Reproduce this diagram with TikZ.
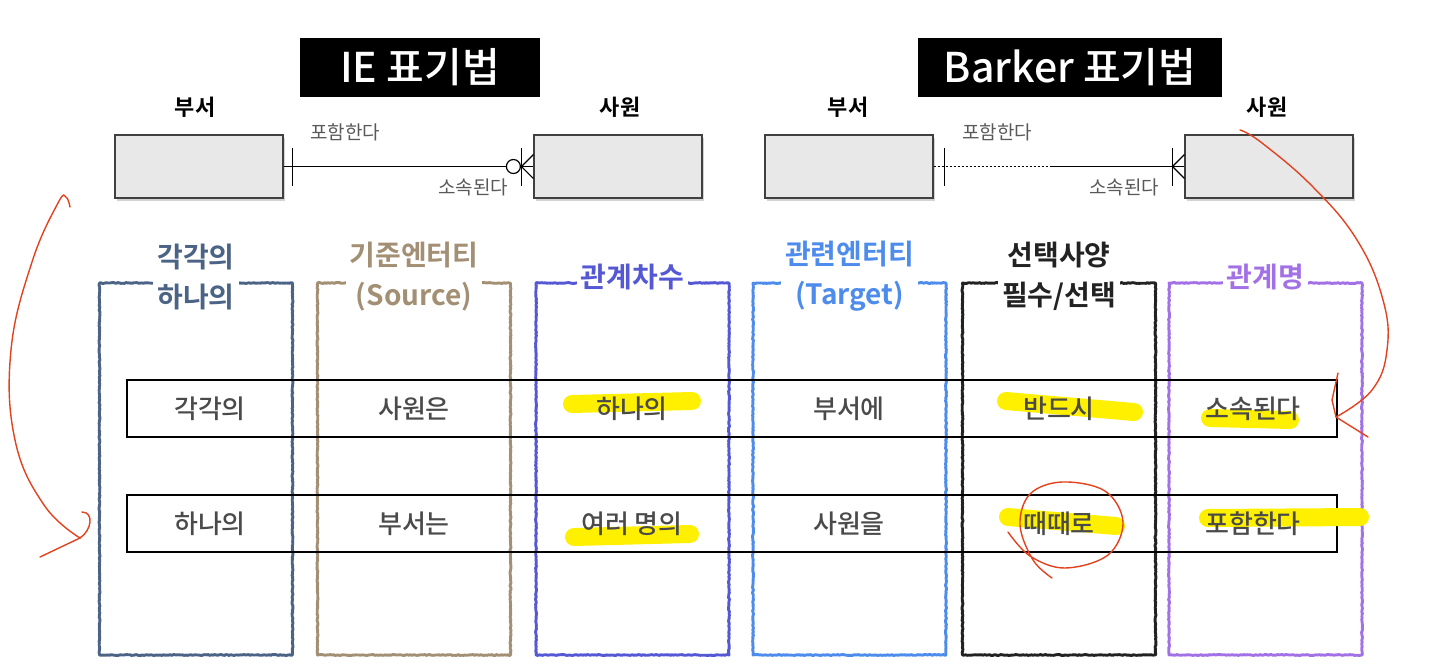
\documentclass[tikz,border=0pt]{standalone}
\usepackage{fontspec}
\setmainfont{Noto Sans CJK KR}[BoldFont={Noto Sans CJK KR Bold}]
\IfFontExistsTF{Noto Sans CJK KR Medium}
  {\newfontfamily\medfont{Noto Sans CJK KR Medium}}
  {\newfontfamily\medfont{Noto Sans CJK KR}}
\usepackage{tikz}
\usetikzlibrary{positioning, calc, shadows, decorations.pathmorphing}
\definecolor{colA}{HTML}{4B6385}
\definecolor{colB}{HTML}{A38F73}
\definecolor{colC}{HTML}{5558D4}
\definecolor{colD}{HTML}{4D8CEC}
\definecolor{colE}{HTML}{222222}
\definecolor{colF}{HTML}{A371E6}
\definecolor{penred}{HTML}{E2421E}
\definecolor{marker}{HTML}{FFF000}
\definecolor{txtgray}{HTML}{4A4A4A}

\begin{document}
\begin{tikzpicture}
[x=1pt, y=-1pt,
 ent/.style={rectangle, draw=black!75, line width=1.2pt, fill=black!9, minimum width=168pt, minimum height=63pt,
   drop shadow={shadow xshift=2pt, shadow yshift=-3pt, opacity=0.35}},
 ttl/.style={rectangle, fill=black, text=white, font=\medfont\fontsize{41}{44}\selectfont, minimum height=59pt, inner sep=0pt},
 lbl/.style={font=\bfseries\fontsize{22}{24}\selectfont},
 rel/.style={text=black!65, font=\fontsize{19}{21}\selectfont, inner sep=0pt},
 frm/.style={rectangle, line width=2.9pt, line join=round, minimum width=193pt, minimum height=372pt,
   decorate, decoration={random steps, segment length=1.6pt, amplitude=0.45pt}},
 hdr/.style={fill=white, align=center, inner sep=4pt, yshift=5pt, font=\bfseries\fontsize{28}{40}\selectfont},
 rowbox/.style={rectangle, draw=black, line width=1.5pt, minimum width=1210pt, minimum height=57pt},
 cell/.style={text=txtgray, font=\medfont\fontsize{26}{30}\selectfont},
 hl/.style={marker, line width=18pt, line cap=round},
 pen/.style={penred, line width=1.4pt, line cap=round, line join=round}]

\useasboundingbox (0,0) rectangle (1440,665);

% columns and their headers
\node[frm, draw=colA] (col1) at (196,469) {};
\node[frm, draw=colB] (col2) at (414,469) {};
\node[frm, draw=colC] (col3) at (632.5,469) {};
\node[frm, draw=colD] (col4) at (849.5,469) {};
\node[frm, draw=colE] (col5) at (1059,469) {};
\node[frm, draw=colF] (col6) at (1265.5,469) {};
\node[hdr, text=colA] (h1) at (col1.north) {각각의\\하나의};
\node[hdr, text=colB] (h2) at (col2.north) {기준엔터티\\(Source)};
\node[hdr, text=colC] (h3) at (col3.north) {관계차수};
\node[hdr, text=colD] (h4) at (col4.north) {관련엔터티\\(Target)};
\node[hdr, text=colE] (h5) at (col5.north) {선택사양\\필수/선택};
\node[hdr, text=colF] (h6) at (col6.north) {관계명};

% the two sentences
\node[rowbox] (row1) at (732,408.5) {};
\node[rowbox] (row2) at (732,523.5) {};

\draw[hl] (572,404) -- (692,401);
\draw[hl] (574,537) -- (690,534);
\draw[hl] (1006,401) -- (1134,412);
\draw[hl] (1210,418) -- (1290,420);
\draw[hl] (1008,517) -- (1116,526);
\draw[hl] (1208,518) -- (1360,517);

\node[cell] (c11) at (210,409) {각각의};
\node[cell] (c12) at (414,409) {사원은};
\node[cell] (c13) at (632,409) {하나의};
\node[cell] (c14) at (849,409) {부서에};
\node[cell] (c15) at (1059,409) {반드시};
\node[cell] (c16) at (1253,409) {소속된다};
\node[cell] (c21) at (210,524) {하나의};
\node[cell] (c22) at (414,524) {부서는};
\node[cell] (c23) at (632,524) {여러 명의};
\node[cell] (c24) at (849,524) {사원을};
\node[cell] (c25) at (1059,524) {때때로};
\node[cell] (c26) at (1253,524) {포함한다};

% IE notation
\node[ttl, minimum width=240pt] (ieTitle) at (420,67.5) {IE 표기법};
\node[ent] (ieDept) at (199,166.5) {};
\node[ent] (ieEmp) at (618,166.5) {};
\node[lbl] (ieDeptL) at (195,107) {부서};
\node[lbl] (ieEmpL) at (620,107) {사원};
\node[rel] (ieHas) at (345,132) {포함한다};
\node[rel] (ieIn) at (473,187) {소속된다};

\draw[line width=1.2pt] (ieDept.east) -- (ieEmp.west);
\draw[line width=1.2pt] ([xshift=9pt]ieDept.east) ++(0,-19) -- ++(0,38);
\draw[line width=1.2pt] ([xshift=-12pt]ieEmp.west) ++(0,-19) -- ++(0,38);
\draw[line width=1.2pt] ([yshift=12pt]ieEmp.west) -- ([xshift=-12pt]ieEmp.west) -- ([yshift=-12pt]ieEmp.west);
\draw[line width=1.2pt, fill=white] ([xshift=-20pt]ieEmp.west) circle (7pt);

% Barker notation
\node[ttl, minimum width=304pt] (bkTitle) at (1070,67.5) {Barker 표기법};
\node[ent] (bkDept) at (849,166.5) {};
\node[ent] (bkEmp) at (1269,166.5) {};
\node[lbl] (bkDeptL) at (848,107) {부서};
\node[lbl] (bkEmpL) at (1267,107) {사원};
\node[rel] (bkHas) at (997,132) {포함한다};
\node[rel] (bkIn) at (1124,187) {소속된다};
\coordinate (bkMid) at (1050,166.5);

\draw[line width=1.2pt, dash pattern=on 2pt off 2pt] (bkDept.east) -- (bkMid);
\draw[line width=1.2pt] (bkMid) -- (bkEmp.west);
\draw[line width=1.2pt] ([xshift=11pt]bkDept.east) ++(0,-19) -- ++(0,38);
\draw[line width=1.2pt] ([xshift=-12pt]bkEmp.west) ++(0,-19) -- ++(0,38);
\draw[line width=1.2pt] ([yshift=12pt]bkEmp.west) -- ([xshift=-12pt]bkEmp.west) -- ([yshift=-12pt]bkEmp.west);

% red pen marks
\coordinate (lTip) at (80,538);
\coordinate (rTip) at (1336,417);
\draw[pen] plot[smooth, tension=0.7] coordinates {(70,207) (66,197) (58,203) (32,262) (11,350) (15,440) (44,505) (80,538)};
\draw[pen] (lTip) .. controls (92,530) and (94,512) .. (82,512);
\draw[pen] (lTip) -- (40,557);
\draw[pen] plot[smooth, tension=0.7] coordinates {(1240,130) (1262,143) (1313,187) (1357,240) (1383,300) (1387,350) (1372,390) (1336,417)};
\draw[pen] (rTip) -- (1332,400) -- (1338,373);
\draw[pen] (rTip) -- (1368,437);
\draw[pen] plot[smooth, tension=0.6] coordinates {(1052,578) (1033,560) (1020,525) (1030,494) (1062,482) (1105,491) (1123,522) (1108,555) (1065,568) (1030,556) (1008,532)};

\end{tikzpicture}
\end{document}
